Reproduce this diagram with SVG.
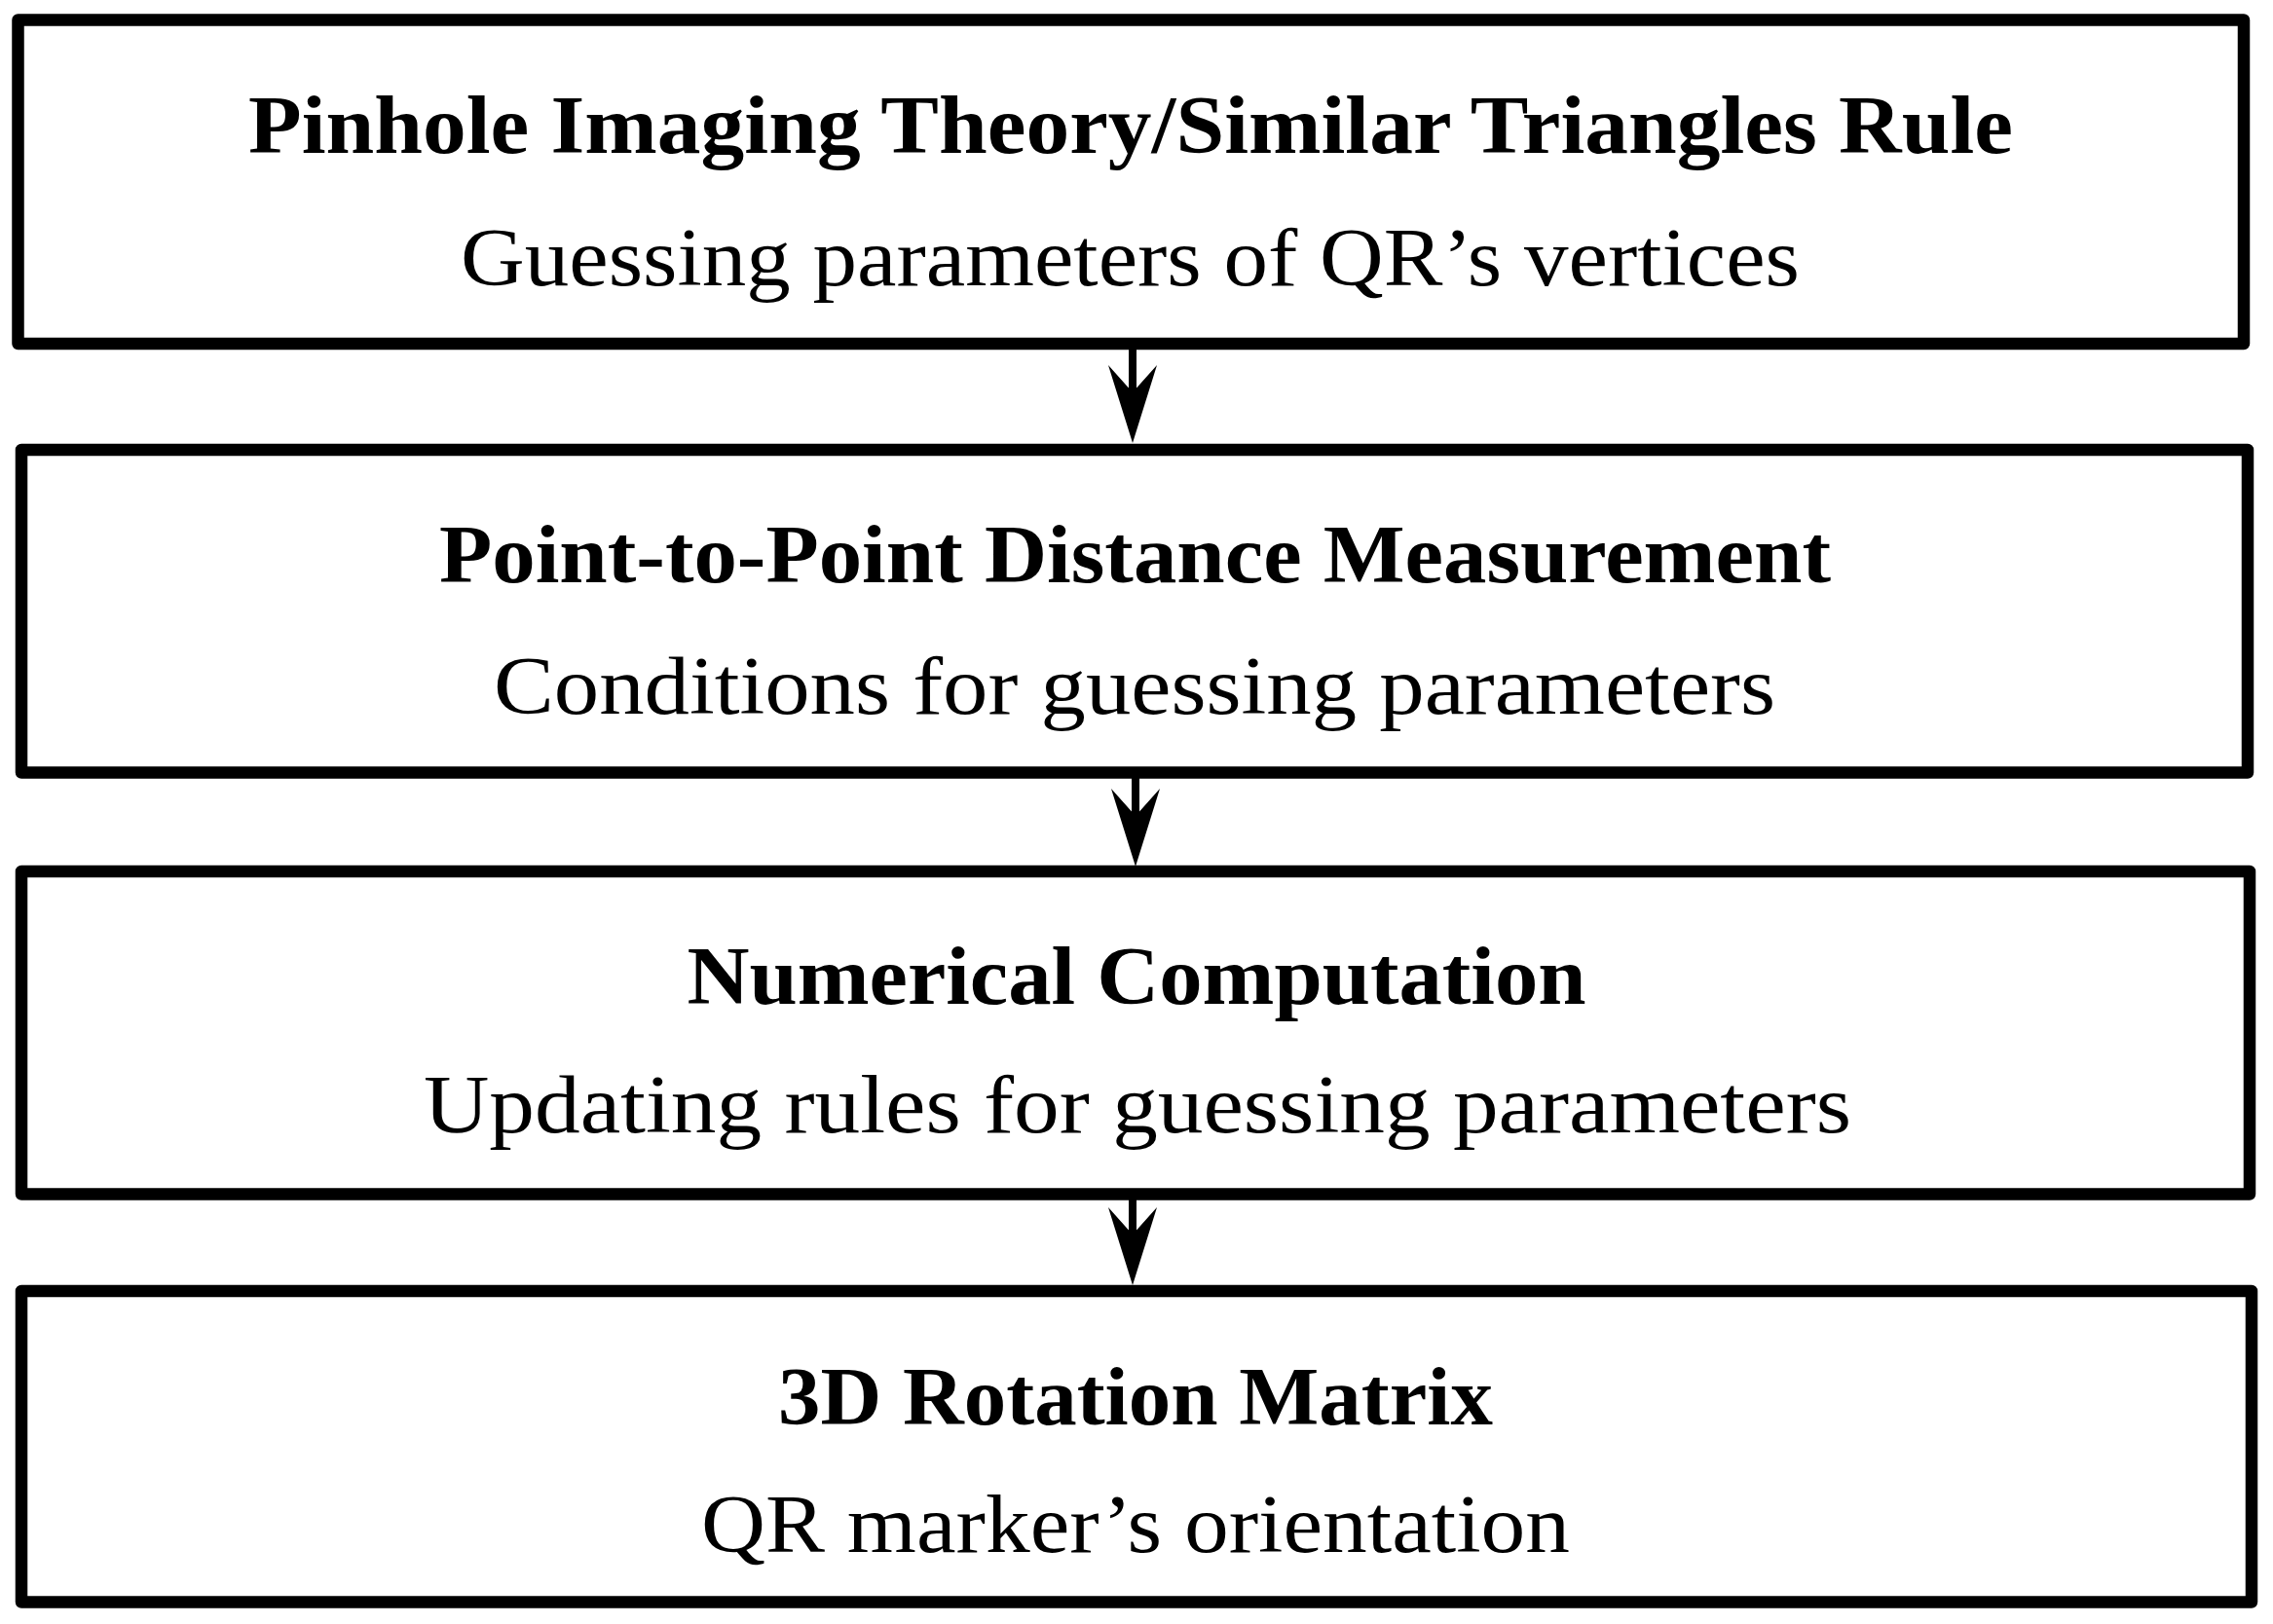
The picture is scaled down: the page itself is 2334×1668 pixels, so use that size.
<svg xmlns="http://www.w3.org/2000/svg" width="2334" height="1668" viewBox="0 0 2334 1668">
  <style>
    .box { fill: #ffffff; stroke: #000000; stroke-width: 12.5; stroke-linejoin: round; }
    .title { font-family: "Liberation Serif", "Times New Roman", serif; font-weight: bold; font-size: 85px; fill: #000000; }
    .sub { font-family: "Liberation Serif", "Times New Roman", serif; font-size: 85px; fill: #000000; }
    .conn { stroke: #000000; stroke-width: 8; fill: none; }
  </style>
  <defs>
    <marker id="ah" markerUnits="userSpaceOnUse" markerWidth="120" markerHeight="120" refX="0" refY="0" orient="auto" overflow="visible" viewBox="-40 -40 120 80">
      <path d="M52,0 L-28,-25 L0,0 L-28,25 Z" fill="#000000"/>
    </marker>
  </defs>
  <rect width="2334" height="1668" fill="#ffffff"/>

  <g id="node1">
    <rect class="box" x="18.5" y="20.5" width="2285.5" height="332.5"/>
    <text class="title" x="255" y="157" textLength="1812" lengthAdjust="spacingAndGlyphs">Pinhole Imaging Theory/Similar Triangles Rule</text>
    <text class="sub" x="473" y="293" textLength="1375" lengthAdjust="spacingAndGlyphs">Guessing parameters of QR’s vertices</text>
  </g>

  <g id="node2">
    <rect class="box" x="22" y="462" width="2286" height="331.5"/>
    <text class="title" x="451" y="597.5" textLength="1429" lengthAdjust="spacingAndGlyphs">Point-to-Point Distance Measurement</text>
    <text class="sub" x="507" y="733" textLength="1316" lengthAdjust="spacingAndGlyphs">Conditions for guessing parameters</text>
  </g>

  <g id="node3">
    <rect class="box" x="22" y="895" width="2288" height="331.5"/>
    <text class="title" x="705.5" y="1031" textLength="923" lengthAdjust="spacingAndGlyphs">Numerical Computation</text>
    <text class="sub" x="435" y="1163" textLength="1466" lengthAdjust="spacingAndGlyphs">Updating rules for guessing parameters</text>
  </g>

  <g id="node4">
    <rect class="box" x="22" y="1326" width="2290" height="319.5"/>
    <text class="title" x="799" y="1463" textLength="734" lengthAdjust="spacingAndGlyphs">3D Rotation Matrix</text>
    <text class="sub" x="720" y="1594" textLength="892" lengthAdjust="spacingAndGlyphs">QR marker’s orientation</text>
  </g>

  <g id="connectors">
    <line class="conn" x1="1163" y1="359" x2="1163" y2="403" marker-end="url(#ah)"/>
    <line class="conn" x1="1166" y1="799" x2="1166" y2="838" marker-end="url(#ah)"/>
    <line class="conn" x1="1163" y1="1232" x2="1163" y2="1268" marker-end="url(#ah)"/>
  </g>
</svg>
